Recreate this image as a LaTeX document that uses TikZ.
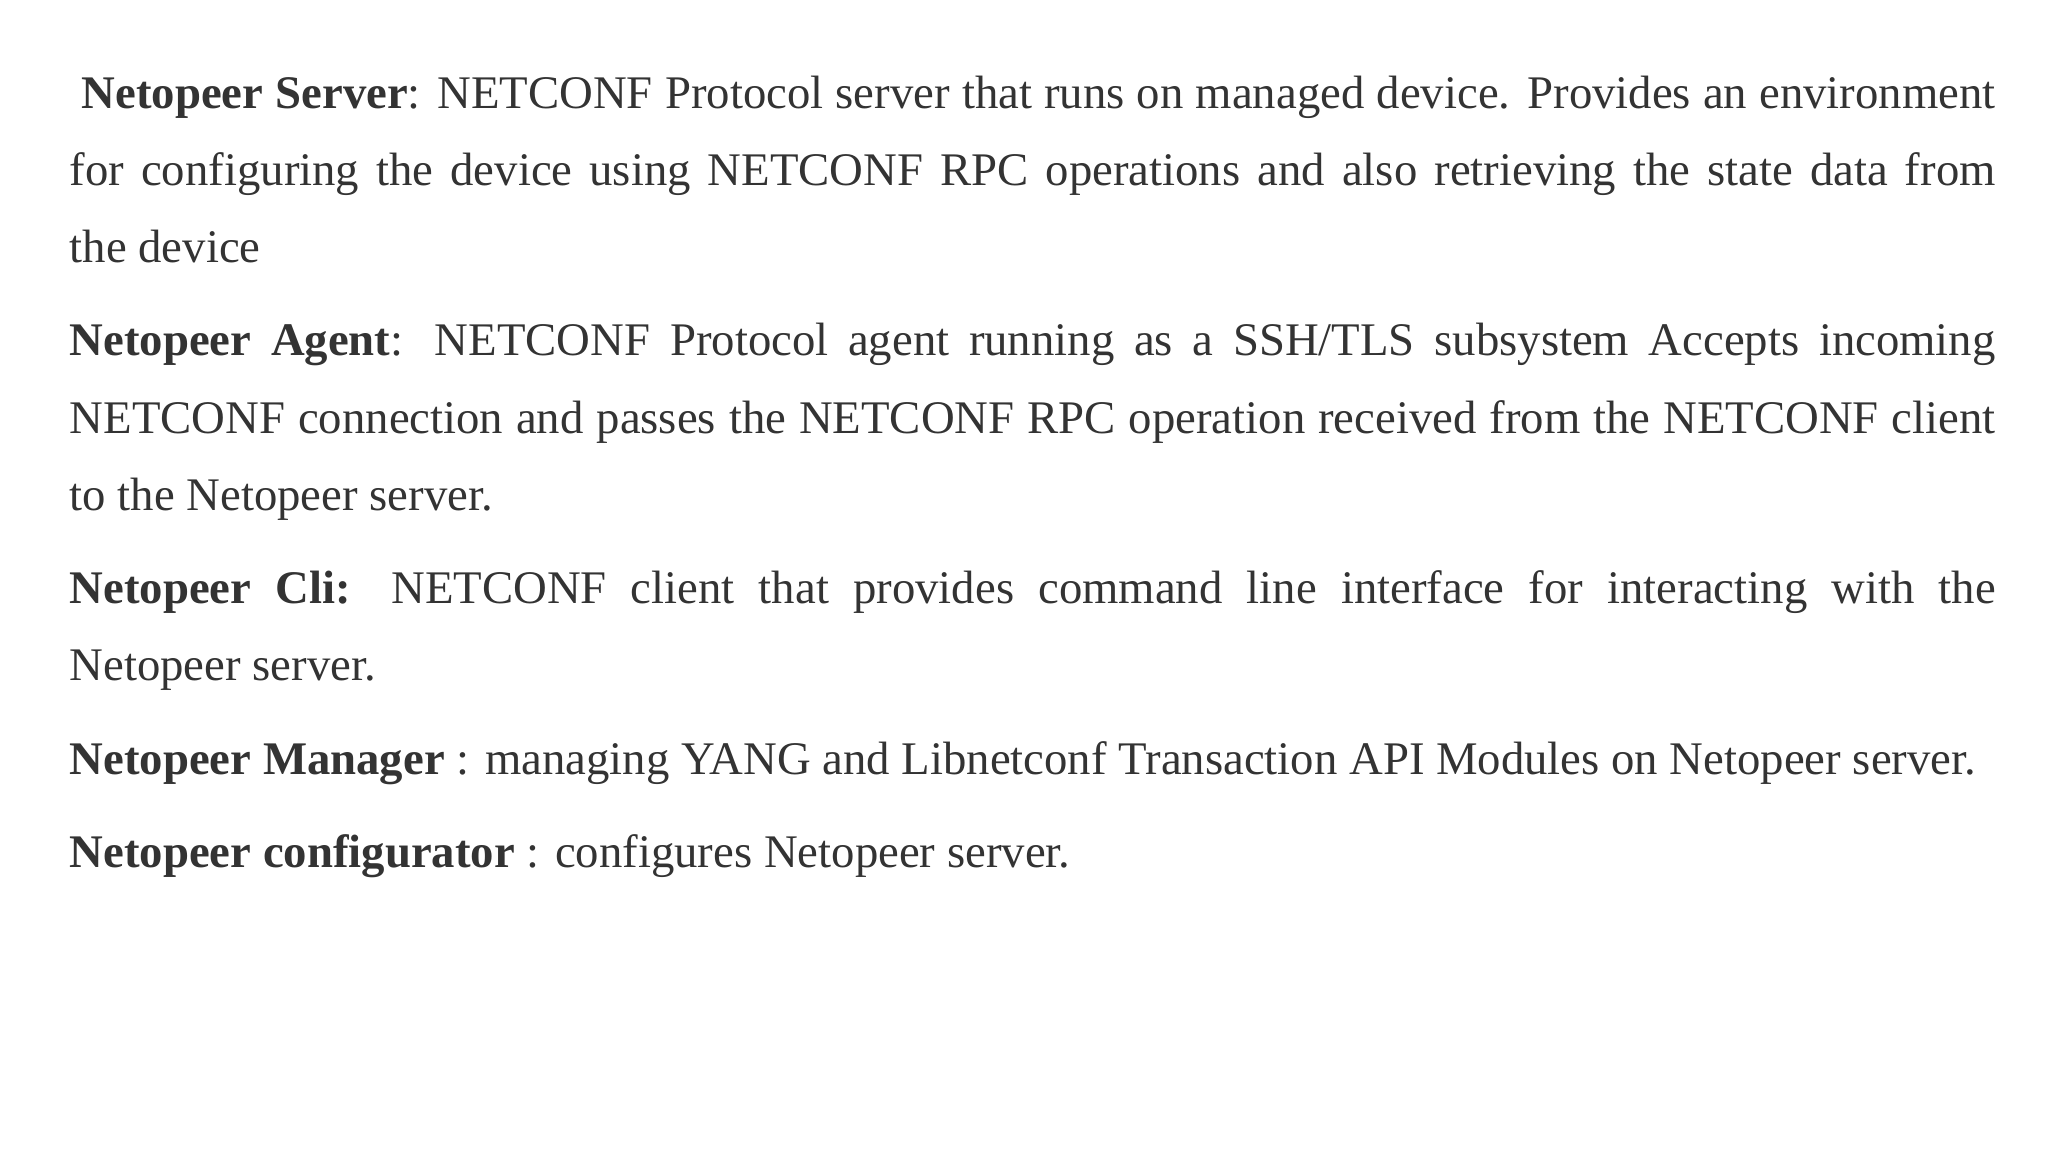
\documentclass[tikz,border=0pt]{standalone}
\usepackage{fontspec}
\setmainfont{Liberation Serif}
\definecolor{txt}{HTML}{333333}
\begin{document}
\begin{tikzpicture}[x=1cm,y=1cm]
\useasboundingbox (0,0) rectangle (20.48,11.52);
\tikzset{para/.style={anchor=north west,inner sep=0pt,text width=19.26cm,align=justify,font=\fontsize{13.3}{22}\selectfont,text=txt}}
\node[para] (body) at (0.69,10.77) {\hyphenpenalty=10000\exhyphenpenalty=10000%
\hspace*{0.12cm}\textbf{Netopeer Server}: NETCONF Protocol server that runs on managed device. Provides an environment\linebreak for configuring the device using NETCONF RPC operations and also retrieving the state data from\linebreak the device\par\vspace{4.5pt}
\textbf{Netopeer Agent}: NETCONF Protocol agent running as a SSH/TLS subsystem Accepts incoming\linebreak NETCONF connection and passes the NETCONF RPC operation received from the NETCONF client\linebreak to the Netopeer server.\par\vspace{4.5pt}
\textbf{Netopeer Cli:} NETCONF client that provides command line interface for interacting with the\linebreak Netopeer server.\par\vspace{4.5pt}
\textbf{Netopeer Manager} : managing YANG and Libnetconf Transaction API Modules on Netopeer server.\par\vspace{4.5pt}
\textbf{Netopeer configurator} : configures Netopeer server.};
\end{tikzpicture}
\end{document}
